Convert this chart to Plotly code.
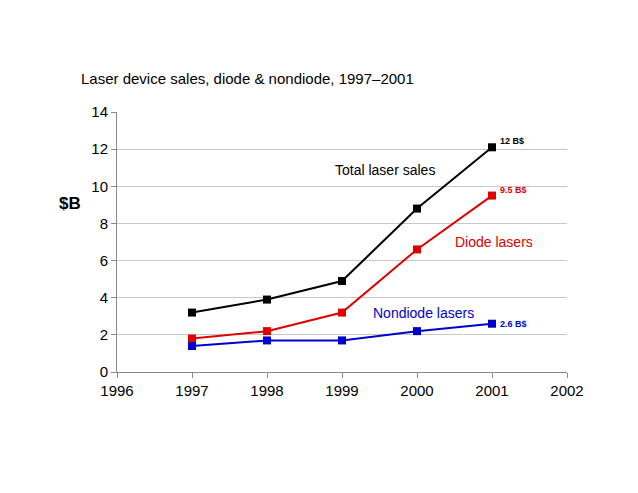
import plotly.graph_objects as go

years = [1997, 1998, 1999, 2000, 2001]
total = [3.2, 3.9, 4.9, 8.8, 12.1]
diode = [1.8, 2.2, 3.2, 6.6, 9.5]
nondiode = [1.4, 1.7, 1.7, 2.2, 2.6]
end_labels = ["12 B$", "9.5 B$", "2.6 B$"]
series_names = ["Total laser sales", "Diode lasers", "Nondiode lasers"]
colors = ["#000000", "#e00000", "#0000cc"]

fig = go.Figure()
for name, vals, c in zip(series_names, [total, diode, nondiode], colors):
    fig.add_trace(go.Scatter(x=years, y=vals, mode="lines+markers", name=name,
                             line=dict(color=c, width=2),
                             marker=dict(symbol="square", size=8, color=c)))

for lab, vals, c in zip(end_labels, [total, diode, nondiode], colors):
    fig.add_annotation(x=years[-1], y=vals[-1], text="<b>%s</b>" % lab, showarrow=False,
                       xanchor="left", xshift=6, yshift=6 if c != "#0000cc" else 0,
                       font=dict(size=9, color=c))

fig.add_annotation(x=1999.57, y=10.9, text=series_names[0], showarrow=False, font=dict(size=14, color="#000"))
fig.add_annotation(x=2001.03, y=7.0, text=series_names[1], showarrow=False, font=dict(size=14, color="#e00000"))
fig.add_annotation(x=2000.08, y=3.2, text=series_names[2], showarrow=False, font=dict(size=14, color="#0000cc"))

fig.add_annotation(xref="paper", yref="paper", x=-0.075, y=0.65, text="<b>$B</b>", showarrow=False,
                   font=dict(size=17, color="#000"), xanchor="right")
fig.add_annotation(xref="paper", yref="paper", x=-0.085, y=1.09, text="Laser device sales, diode & nondiode, 1997\u20132001",
                   showarrow=False, xanchor="left", yanchor="bottom", font=dict(size=15, color="#000"))

fig.update_layout(width=638, height=493, margin=dict(l=109, r=79, t=104, b=129),
                  paper_bgcolor="white", plot_bgcolor="white", showlegend=False,
                  font=dict(family="Liberation Sans, Arial", size=15, color="#000"))
fig.update_xaxes(range=[1996, 2002], dtick=1, showgrid=False, showline=True, linecolor="#888",
                 ticks="outside", ticklen=5, tickcolor="#888", zeroline=False)
fig.update_yaxes(range=[0, 14], dtick=2, showgrid=True, gridcolor="#c8c8c8", showline=True,
                 linecolor="#888", ticks="outside", ticklen=5, tickcolor="#888", zeroline=False)
fig.write_html("out.html")
